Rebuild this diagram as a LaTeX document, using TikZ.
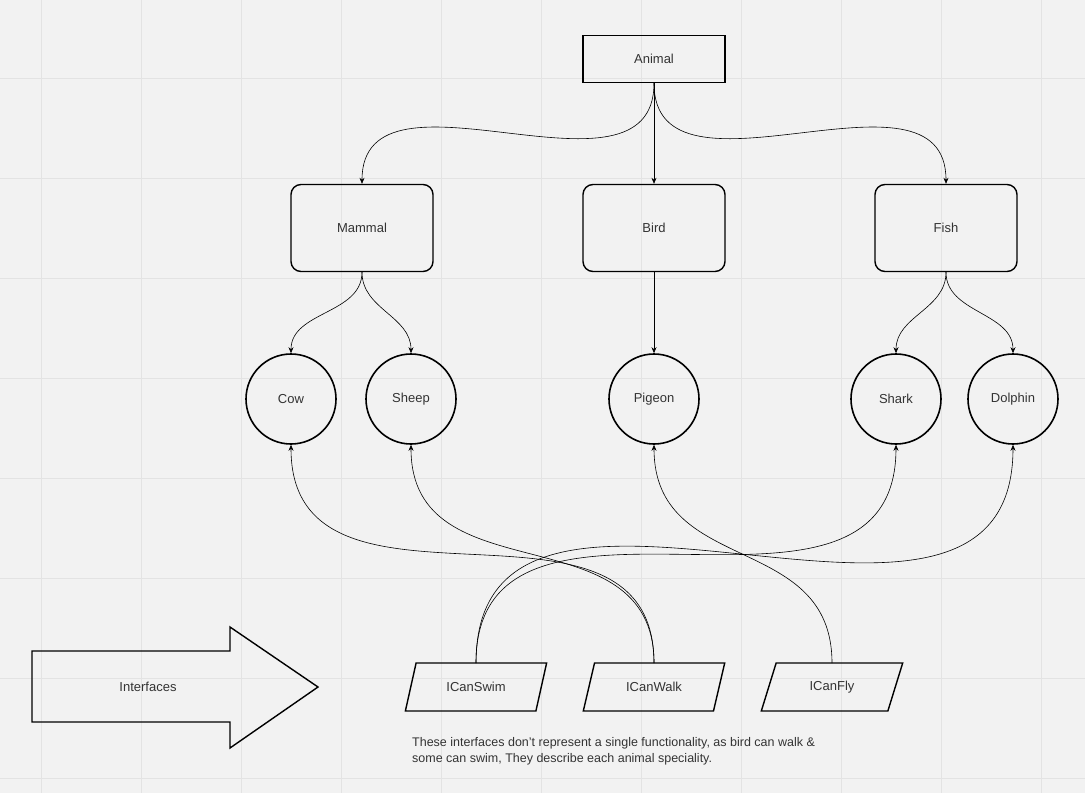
\documentclass[tikz,border=0pt]{standalone}
\usepackage{fontspec}
\setmainfont{Liberation Sans}
\usetikzlibrary{shapes.geometric,arrows.meta}
\definecolor{bgcol}{HTML}{F2F2F2}
\definecolor{gridcol}{HTML}{E3E3E3}
\definecolor{txtcol}{HTML}{333333}
\tikzset{
  box/.style={draw, line width=1.4pt, minimum width=142pt, minimum height=47pt, text=txtcol},
  rbox/.style={box, rounded corners=10pt, minimum height=87pt},
  animal/.style={circle, draw, line width=1.6pt, minimum size=90pt, text=txtcol},
  iface/.style={trapezium, trapezium left angle=70, trapezium right angle=110, trapezium stretches,
    draw, line width=1.4pt, minimum width=142pt, minimum height=48pt, text=txtcol},
  link/.style={-{Stealth[length=6pt,width=5pt]}, line width=0.6pt},
}
\begin{document}
\begin{tikzpicture}[x=1pt, y=-1pt, font=\fontsize{13}{15}\selectfont]
    % Background
    \fill[bgcol] (0,0) rectangle (1085,793);
    \useasboundingbox (0,0) rectangle (1085,793);
    \foreach \gx in {41,141,...,1041} \draw[gridcol] (\gx,0) -- (\gx,793);
    \foreach \gy in {78,178,...,778} \draw[gridcol] (0,\gy) -- (1085,\gy);
    % Nodes
    \node[box] (animal) at (654,59) {Animal};
    \node[rbox] (mammal) at (362,228) {Mammal};
    \node[rbox] (bird) at (654,228) {Bird};
    \node[rbox] (fish) at (946,228) {Fish};
    \node[animal] (cow) at (291,399) {Cow};
    \node[animal] (sheep) at (411,399) {Sheep};
    \node[animal] (pigeon) at (654,399) {Pigeon};
    \node[animal] (shark) at (896,399) {Shark};
    \node[animal] (dolphin) at (1013,399) {Dolphin};
    \node[iface] (swim) at (476,687) {ICanSwim};
    \node[iface] (walk) at (654,687) {ICanWalk};
    \node[iface] (fly) at (832,687) {ICanFly};
    \coordinate (swimtop) at (476,663);
    \coordinate (walktop) at (654,663);
    \coordinate (flytop) at (832,663);
    % Interfaces arrow
    \draw[line width=1.4pt] (32,651) -- (230,651) -- (230,627) -- (318,687) -- (230,748) -- (230,722) -- (32,722) -- cycle;
    \node[text=txtcol] (ilabel) at (148,687) {Interfaces};
    \node[text=txtcol, anchor=north west, align=left, inner sep=0pt, font=\fontsize{12.5}{16}\selectfont] (note) at (412,737)
      {These interfaces don't represent a single functionality, as bird can walk \&\\some can swim, They describe each animal speciality.};
    % Top links
    \draw[link] (animal.south) to[out=-90, in=90, looseness=1.1] (mammal.north);
    \draw[link] (animal.south) -- (bird.north);
    \draw[link] (animal.south) to[out=-90, in=90, looseness=1.1] (fish.north);
    \draw[link] (mammal.south) to[out=-90, in=90] (cow.north);
    \draw[link] (mammal.south) to[out=-90, in=90] (sheep.north);
    \draw[link] (bird.south) -- (pigeon.north);
    \draw[link] (fish.south) to[out=-90, in=90] (shark.north);
    \draw[link] (fish.south) to[out=-90, in=90] (dolphin.north);
    % Interface links
    \draw[link] (swimtop) to[out=90, in=-90, looseness=1.2] (shark.south);
    \draw[link] (swimtop) to[out=90, in=-90, looseness=1.2] (dolphin.south);
    \draw[link] (walktop) to[out=90, in=-90, looseness=1.2] (cow.south);
    \draw[link] (walktop) to[out=90, in=-90, looseness=1.2] (sheep.south);
    \draw[link] (flytop) to[out=90, in=-90, looseness=1.2] (pigeon.south);
\end{tikzpicture}
\end{document}
